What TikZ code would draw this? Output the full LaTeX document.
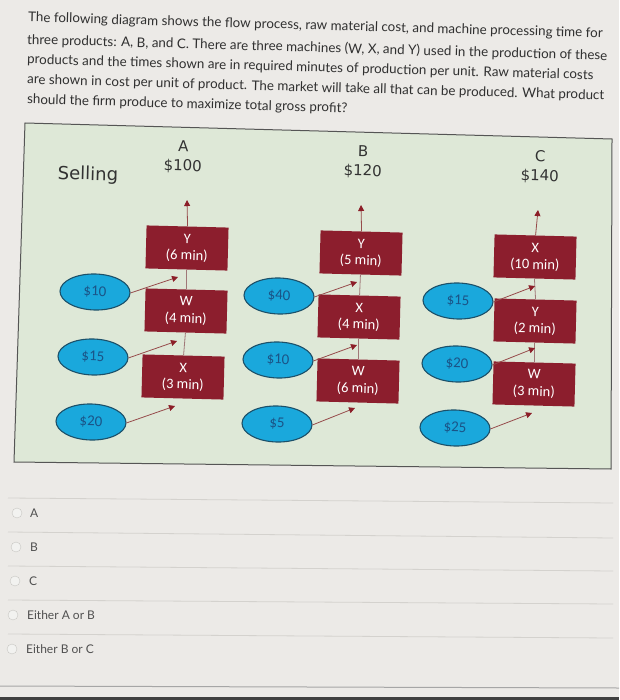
\documentclass[tikz,border=0pt]{standalone}
\usepackage{fontspec}
\setmainfont{Lato}
\newfontfamily\verd{DejaVu Sans}
\newfontfamily\calib{Carlito}
\usetikzlibrary{arrows.meta,shapes.geometric}
\definecolor{bg}{RGB}{236,234,231}
\definecolor{qtext}{RGB}{48,48,48}
\definecolor{mint}{RGB}{222,232,215}
\definecolor{boxedge}{RGB}{85,85,85}
\definecolor{mred}{RGB}{140,30,45}
\definecolor{ecyan}{RGB}{26,168,220}
\definecolor{eborder}{RGB}{28,80,105}
\definecolor{etext}{RGB}{26,84,135}
\definecolor{arr}{RGB}{150,75,75}
\definecolor{arrhead}{RGB}{140,30,40}
\definecolor{linkc}{RGB}{160,120,120}
\definecolor{lbl}{RGB}{50,50,50}
\definecolor{sep}{RGB}{212,210,206}
\definecolor{anstext}{RGB}{80,80,80}
\begin{document}
\begin{tikzpicture}[x=1pt,y=-1pt,
  qline/.style={anchor=west, inner sep=0pt, text=qtext, font=\fontsize{13.4}{16}\selectfont, rotate=-1.6},
  mach/.style={rectangle, fill=mred, text=white, minimum width=82pt, minimum height=43pt, inner sep=0pt, align=center, font=\calib\fontsize{14.5}{17}\selectfont, rotate=-1.5},
  cost/.style={ellipse, draw=eborder, fill=ecyan, line width=1.1pt, minimum width=70pt, minimum height=36pt, inner sep=0pt, text=etext, font=\calib\fontsize{15}{17}\selectfont, rotate=-1.5},
  ttl/.style={align=center, text=lbl, inner sep=0pt, font=\verd\fontsize{15}{19}\selectfont, rotate=-1.5},
  flow/.style={draw=arr, line width=0.8pt, -{Triangle[length=6pt,width=6pt,color=arrhead]}},
  link/.style={draw=linkc, line width=0.8pt},
  sepline/.style={draw=sep, line width=0.8pt},
  radio/.style={circle, draw=sep!85!gray, fill=white!70!sep, minimum size=10pt, inner sep=0pt},
  ans/.style={anchor=west, inner sep=0pt, text=anstext, font=\fontsize{12}{14}\selectfont}
]
\useasboundingbox (0,0) rectangle (619,700);
\fill[bg] (0,0) rectangle (619,700);

% question text
\node[qline] (q1) at (28,18) {The following diagram shows the flow process, raw material cost, and machine processing time for};
\node[qline] (q2) at (27,40) {three products: A, B, and C. There are three machines (W, X, and Y) used in the production of these};
\node[qline] (q3) at (27,60) {products and the times shown are in required minutes of production per unit. Raw material costs};
\node[qline] (q4) at (27,80) {are shown in cost per unit of product. The market will take all that can be produced. What product};
\node[qline] (q5) at (27,100) {should the firm produce to maximize total gross profit?};

% diagram frame
\draw[draw=boxedge, fill=mint, line width=1pt] (25,123) -- (612,139) -- (611,469) -- (14,462) -- cycle;

\node[ttl, font=\verd\fontsize{18}{20}\selectfont] (sell) at (88,175) {Selling};
\node[ttl] (ta) at (183,157) {A\\\$100};
\node[ttl] (tb) at (363,162) {B\\\$120};
\node[ttl] (tc) at (540,167) {C\\\$140};

% column A
\node[mach] (aY) at (187,248) {Y\\(6 min)};
\node[mach] (aW) at (186,311) {W\\(4 min)};
\node[mach] (aX) at (183,377) {X\\(3 min)};
\node[cost] (a1) at (95,292) {\$10};
\node[cost] (a2) at (93,357) {\$15};
\node[cost] (a3) at (91,422) {\$20};
\coordinate (atop) at (187,200);
\coordinate (at1) at (178,277);
\coordinate (at2) at (177,341);
\coordinate (at3) at (175,406);

% column B
\node[mach] (bY) at (361,253) {Y\\(5 min)};
\node[mach] (bX) at (359,317) {X\\(4 min)};
\node[mach] (bW) at (358,381) {W\\(6 min)};
\node[cost] (b1) at (279,296) {\$40};
\node[cost] (b2) at (278,360) {\$10};
\node[cost] (b3) at (277,424) {\$5};
\coordinate (btop) at (361,205);
\coordinate (bt1) at (357,282);
\coordinate (bt2) at (357,345);
\coordinate (bt3) at (355,408);

% column C
\node[mach] (cX) at (535,257) {X\\(10 min)};
\node[mach] (cY) at (535,321) {Y\\(2 min)};
\node[mach] (cW) at (534,384) {W\\(3 min)};
\node[cost] (c1) at (458,301) {\$15};
\node[cost] (c2) at (457,364) {\$20};
\node[cost] (c3) at (455,428) {\$25};
\coordinate (ctop) at (538,210);
\coordinate (ct1) at (535,286);
\coordinate (ct2) at (535,348);
\coordinate (ct3) at (532,413);

% connectors
\draw[flow] (aY.north) -- (atop);
\draw[link] (aY.south) -- (aW.north);
\draw[link] (aW.south) -- (aX.north);
\draw[flow] (a1.east) -- (at1);
\draw[flow] (a2.east) -- (at2);
\draw[flow] (a3.east) -- (at3);

\draw[flow] (bY.north) -- (btop);
\draw[link] (bY.south) -- (bX.north);
\draw[link] (bX.south) -- (bW.north);
\draw[flow] (b1.east) -- (bt1);
\draw[flow] (b2.east) -- (bt2);
\draw[flow] (b3.east) -- (bt3);

\draw[flow] (cX.north) -- (ctop);
\draw[link] (cX.south) -- (cY.north);
\draw[link] (cY.south) -- (cW.north);
\draw[flow] (c1.east) -- (ct1);
\draw[flow] (c2.east) -- (ct2);
\draw[flow] (c3.east) -- (ct3);

% answer area
\draw[sepline] (8,498) -- (613,503);
\draw[sepline] (8,532) -- (613,538);
\draw[sepline] (8,566) -- (613,571);
\draw[sepline] (8,600) -- (613,604);
\draw[sepline] (8,634) -- (613,638);
\draw[draw=gray!70, line width=1pt] (0,686) -- (619,688);
\fill[black!75] (0,697) rectangle (619,700);

\node[radio] (r1) at (17,513) {};
\node[radio] (r2) at (16,547) {};
\node[radio] (r3) at (15,581) {};
\node[radio] (r4) at (13,615) {};
\node[radio] (r5) at (12,649) {};
\node[ans] (o1) at (30,513) {A};
\node[ans] (o2) at (30,547) {B};
\node[ans] (o3) at (29,581) {C};
\node[ans] (o4) at (27,615) {Either A or B};
\node[ans] (o5) at (26,649) {Either B or C};
\end{tikzpicture}
\end{document}
